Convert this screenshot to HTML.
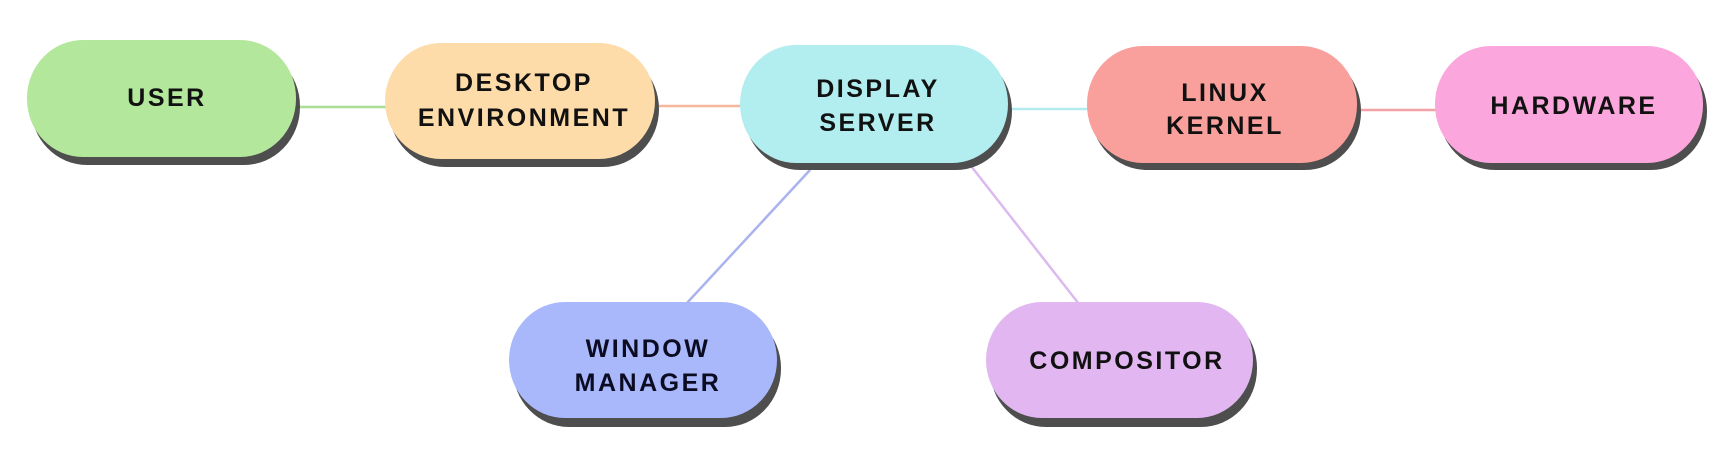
<!DOCTYPE html>
<html>
<head>
<meta charset="utf-8">
<style>
  html, body { margin: 0; padding: 0; background: #ffffff; }
  body { width: 1735px; height: 449px; overflow: hidden; }
  svg { display: block; }
  text { font-family: "Liberation Sans", sans-serif; font-weight: bold; font-size: 25px; letter-spacing: 2.5px; fill: #111111; }
</style>
</head>
<body>
<svg width="1735" height="449" viewBox="0 0 1735 449" xmlns="http://www.w3.org/2000/svg">
  <rect x="0" y="0" width="1735" height="449" fill="#ffffff"/>

  <!-- connectors -->
  <g stroke-width="2.5" fill="none">
    <line x1="290" y1="107" x2="392" y2="107" stroke="#aadd96"/>
    <line x1="650" y1="106" x2="746" y2="106" stroke="#f5b89c"/>
    <line x1="1002" y1="109" x2="1093" y2="109" stroke="#b2ecf0"/>
    <line x1="1350" y1="110" x2="1441" y2="110" stroke="#f2a1a6"/>
    <line x1="810" y1="170" x2="686" y2="304" stroke="#a9b3ee"/>
    <line x1="971" y1="166" x2="1079" y2="304" stroke="#dbbaf0"/>
  </g>

  <!-- USER -->
  <rect x="31" y="48" width="269" height="117" rx="56" ry="58" fill="#4e4e4e"/>
  <rect x="27" y="40" width="269" height="117" rx="56" ry="58" fill="#b3e79b"/>
  <text x="167" y="106" text-anchor="middle">USER</text>

  <!-- DESKTOP ENVIRONMENT -->
  <rect x="389" y="51" width="270" height="116" rx="56" ry="58" fill="#4e4e4e"/>
  <rect x="385" y="43" width="270" height="116" rx="56" ry="58" fill="#fddcaa"/>
  <text x="524" y="91" text-anchor="middle">DESKTOP</text>
  <text x="524" y="126" text-anchor="middle">ENVIRONMENT</text>

  <!-- DISPLAY SERVER -->
  <rect x="744" y="52" width="268" height="118" rx="56" ry="59" fill="#4e4e4e"/>
  <rect x="740" y="45" width="268" height="118" rx="56" ry="59" fill="#b2eef0"/>
  <text x="878" y="97" text-anchor="middle">DISPLAY</text>
  <text x="878" y="131" text-anchor="middle">SERVER</text>

  <!-- LINUX KERNEL -->
  <rect x="1091" y="53" width="270" height="117" rx="56" ry="58" fill="#4e4e4e"/>
  <rect x="1087" y="46" width="270" height="117" rx="56" ry="58" fill="#f9a09c"/>
  <text x="1225" y="101" text-anchor="middle">LINUX</text>
  <text x="1225" y="134" text-anchor="middle">KERNEL</text>

  <!-- HARDWARE -->
  <rect x="1439" y="53" width="268" height="117" rx="56" ry="58" fill="#4e4e4e"/>
  <rect x="1435" y="46" width="268" height="117" rx="56" ry="58" fill="#fba6dc"/>
  <text x="1574" y="114" text-anchor="middle">HARDWARE</text>

  <!-- WINDOW MANAGER -->
  <rect x="513" y="310" width="268" height="117" rx="56" ry="58" fill="#4e4e4e"/>
  <rect x="509" y="302" width="268" height="116" rx="56" ry="58" fill="#a9b8fb"/>
  <text x="648" y="357" text-anchor="middle" style="fill:#0b0b22">WINDOW</text>
  <text x="648" y="391" text-anchor="middle" style="fill:#0b0b22">MANAGER</text>

  <!-- COMPOSITOR -->
  <rect x="990" y="310" width="267" height="117" rx="56" ry="58" fill="#4e4e4e"/>
  <rect x="986" y="302" width="267" height="116" rx="56" ry="58" fill="#e2b7f1"/>
  <text x="1127" y="369" text-anchor="middle">COMPOSITOR</text>
</svg>
</body>
</html>
